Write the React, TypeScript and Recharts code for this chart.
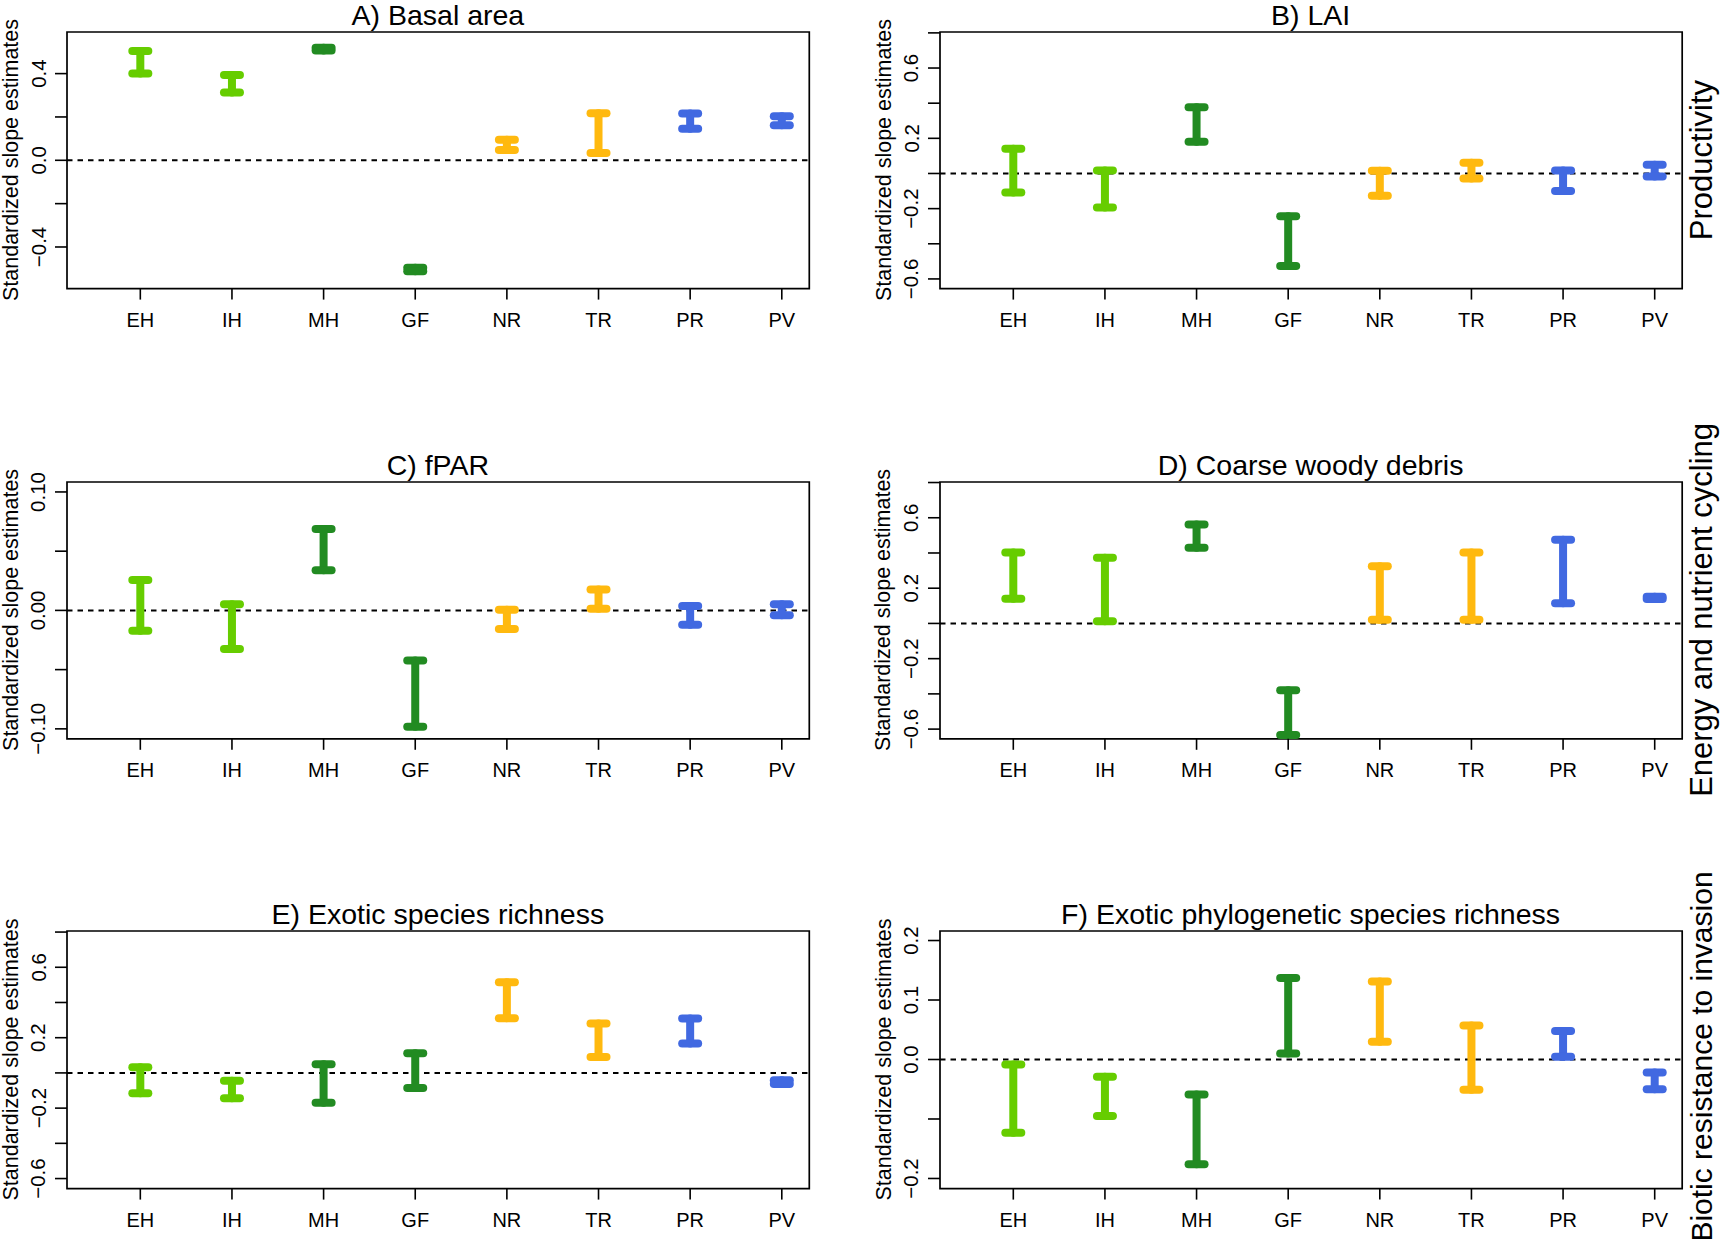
import React from 'react';
import {
  ScatterChart,
  Scatter,
  XAxis,
  YAxis,
  ErrorBar,
  ReferenceLine,
  ReferenceArea,
} from 'recharts';

// ---------- data ----------
const categories = ['EH', 'IH', 'MH', 'GF', 'NR', 'TR', 'PR', 'PV'];
const categoryColors = ['#66CD00', '#66CD00', '#228B22', '#228B22', '#FFB90F', '#FFB90F', '#4169E1', '#4169E1'];

const basalHi = [0.504, 0.394, 0.519, -0.496, 0.095, 0.217, 0.216, 0.203];
const basalLo = [0.400, 0.313, 0.507, -0.512, 0.048, 0.034, 0.146, 0.162];

const laiHi = [0.140, 0.017, 0.377, -0.243, 0.015, 0.061, 0.017, 0.049];
const laiLo = [-0.108, -0.193, 0.180, -0.527, -0.127, -0.028, -0.099, -0.017];

const fparHi = [0.0256, 0.0051, 0.0688, -0.0424, 0.0006, 0.0177, 0.0037, 0.0051];
const fparLo = [-0.0171, -0.0326, 0.0340, -0.0983, -0.0157, 0.0014, -0.0121, -0.0042];

const cwdHi = [0.403, 0.373, 0.562, -0.380, 0.325, 0.403, 0.475, 0.152];
const cwdLo = [0.140, 0.013, 0.430, -0.634, 0.021, 0.021, 0.114, 0.139];

const exoticHi = [0.032, -0.045, 0.049, 0.112, 0.515, 0.280, 0.309, -0.042];
const exoticLo = [-0.116, -0.144, -0.170, -0.085, 0.311, 0.091, 0.167, -0.063];

const phyloHi = [-0.0084, -0.029, -0.059, 0.137, 0.131, 0.057, 0.048, -0.022];
const phyloLo = [-0.123, -0.095, -0.176, 0.010, 0.030, -0.051, 0.0045, -0.050];

const ticksA = [-0.4, -0.2, 0, 0.2, 0.4];
const tickLabelsA = ['\u22120.4', '', '0.0', '', '0.4'];
const ticksWide = [-0.6, -0.4, -0.2, 0, 0.2, 0.4, 0.6, 0.8];
const tickLabelsWide = ['\u22120.6', '', '\u22120.2', '', '0.2', '', '0.6', ''];
const ticksC = [-0.1, -0.05, 0, 0.05, 0.1];
const tickLabelsC = ['\u22120.10', '', '0.00', '', '0.10'];
const ticksF = [-0.2, -0.1, 0, 0.1, 0.2];
const tickLabelsF = ['\u22120.2', '', '0.0', '0.1', '0.2'];

const rowLabels = ['Productivity', 'Energy and nutrient cycling', 'Biotic resistance to invasion'];
const yTitle = 'Standardized slope estimates';

// ---------- layout ----------
const FONT = "'Liberation Sans', Arial, Helvetica, sans-serif";
const COLS = [
  { L: 66.7, R: 809 },
  { L: 939.5, R: 1681.7 },
];
const ROWS = [
  { T: 31.7, B: 288.3 },
  { T: 481.5, B: 738.3 },
  { T: 930.7, B: 1188.3 },
];
const X_DOMAIN = [0.2, 8.3];

type PanelDef = {
  title: string;
  col: number;
  row: number;
  hi: number[];
  lo: number[];
  domain: [number, number];
  ticks: number[];
  tickLabels: string[];
};

const panels: PanelDef[] = [
  { title: 'A) Basal area', col: 0, row: 0, hi: basalHi, lo: basalLo, domain: [-0.592, 0.592], ticks: ticksA, tickLabels: tickLabelsA },
  { title: 'B) LAI', col: 1, row: 0, hi: laiHi, lo: laiLo, domain: [-0.655, 0.805], ticks: ticksWide, tickLabels: tickLabelsWide },
  { title: 'C) fPAR', col: 0, row: 1, hi: fparHi, lo: fparLo, domain: [-0.1084, 0.1084], ticks: ticksC, tickLabels: tickLabelsC },
  { title: 'D) Coarse woody debris', col: 1, row: 1, hi: cwdHi, lo: cwdLo, domain: [-0.655, 0.803], ticks: ticksWide, tickLabels: tickLabelsWide },
  { title: 'E) Exotic species richness', col: 0, row: 2, hi: exoticHi, lo: exoticLo, domain: [-0.657, 0.806], ticks: ticksWide, tickLabels: tickLabelsWide },
  { title: 'F) Exotic phylogenetic species richness', col: 1, row: 2, hi: phyloHi, lo: phyloLo, domain: [-0.217, 0.216], ticks: ticksF, tickLabels: tickLabelsF },
];

const groups = [
  { idx: [0, 1], color: categoryColors[0] },
  { idx: [2, 3], color: categoryColors[2] },
  { idx: [4, 5], color: categoryColors[4] },
  { idx: [6, 7], color: categoryColors[6] },
];

const EmptyShape = () => <g />;

function Panel({ p }: { p: PanelDef }) {
  const { L, R } = COLS[p.col];
  const { T, B } = ROWS[p.row];
  const padL = 66, padT = 10, padR = 10, padB = 60;
  const YW = 46, XH = 50;
  const W = R - L + padL + padR;
  const H = B - T + padT + padB;

  const table = categories.map((c, i) => {
    const mid = (p.hi[i] + p.lo[i]) / 2;
    return { x: i + 1, cat: c, mid, err: [mid - p.lo[i], p.hi[i] - mid] };
  });

  const yTick = (props: any) => {
    const { x, y, payload } = props;
    const k = p.ticks.findIndex((t) => Math.abs(t - payload.value) < 1e-9);
    const lab = k >= 0 ? p.tickLabels[k] : '';
    if (!lab) return <g />;
    return (
      <text
        x={x}
        y={y}
        transform={`rotate(-90 ${x} ${y})`}
        textAnchor="middle"
        fontFamily={FONT}
        fontSize={20.5}
        fill="#000"
      >
        {lab}
      </text>
    );
  };

  const xTick = (props: any) => {
    const { x, y, payload } = props;
    const lab = categories[Math.round(payload.value) - 1] || '';
    return (
      <text x={x} y={y + 25} textAnchor="middle" fontFamily={FONT} fontSize={20} fill="#000">
        {lab}
      </text>
    );
  };

  return (
    <div style={{ position: 'absolute', left: L - padL, top: T - padT, width: W, height: H }}>
      <ScatterChart
        width={W}
        height={H}
        margin={{ top: padT, right: padR, bottom: padB - XH, left: padL - YW }}
      >
        <XAxis
          type="number"
          dataKey="x"
          domain={X_DOMAIN}
          allowDataOverflow
          ticks={[1, 2, 3, 4, 5, 6, 7, 8]}
          interval={0}
          height={XH}
          axisLine={false}
          tickLine={{ stroke: '#000', strokeWidth: 1.6 }}
          tickSize={11}
          tickMargin={2}
          tick={xTick}
        />
        <YAxis
          type="number"
          dataKey="mid"
          domain={p.domain}
          allowDataOverflow
          ticks={p.ticks}
          interval={0}
          width={YW}
          axisLine={false}
          tickLine={{ stroke: '#000', strokeWidth: 1.6 }}
          tickSize={12}
          tickMargin={9.5}
          tick={yTick}
        />
        <ReferenceLine y={0} stroke="#000" strokeWidth={2} strokeDasharray="5.5 5" ifOverflow="visible" />
        <ReferenceArea
          x1={X_DOMAIN[0]}
          x2={X_DOMAIN[1]}
          y1={p.domain[0]}
          y2={p.domain[1]}
          fill="none"
          fillOpacity={0}
          stroke="#000"
          strokeWidth={1.7}
          ifOverflow="visible"
        />
        {groups.map((g, gi) => (
          <Scatter
            key={gi}
            data={g.idx.map((i) => table[i])}
            dataKey="mid"
            shape={EmptyShape}
            isAnimationActive={false}
          >
            <ErrorBar
              dataKey="err"
              direction="y"
              width={8}
              stroke={g.color}
              strokeWidth={8}
              strokeLinecap="round"
              isAnimationActive={false}
            />
          </Scatter>
        ))}
      </ScatterChart>
    </div>
  );
}

export default function App() {
  return (
    <div style={{ position: 'absolute', left: 0, top: 0, width: 1720, height: 1247, background: '#fff', overflow: 'hidden' }}>
      {panels.map((p, i) => (
        <Panel key={i} p={p} />
      ))}
      <svg
        width={1720}
        height={1247}
        style={{ position: 'absolute', left: 0, top: 0, pointerEvents: 'none' }}
      >
        {panels.map((p, i) => {
          const { L, R } = COLS[p.col];
          const { T, B } = ROWS[p.row];
          const cy = (T + B) / 2;
          const yx = L - 49;
          return (
            <g key={i}>
              <text x={(L + R) / 2} y={T - 7} textAnchor="middle" fontFamily={FONT} fontSize={28.5} fill="#000">
                {p.title}
              </text>
              <text
                x={yx}
                y={cy}
                transform={`rotate(-90 ${yx} ${cy})`}
                textAnchor="middle"
                fontFamily={FONT}
                fontSize={21.5}
                fill="#000"
              >
                {yTitle}
              </text>
            </g>
          );
        })}
        {ROWS.map((r, i) => {
          const cy = (r.T + r.B) / 2 - (i === 2 ? 3 : 0);
          const x = 1712;
          return (
            <text
              key={i}
              x={x}
              y={cy}
              transform={`rotate(-90 ${x} ${cy})`}
              textAnchor="middle"
              fontFamily={FONT}
              fontSize={i === 2 ? 30 : 31}
              fill="#000"
            >
              {rowLabels[i]}
            </text>
          );
        })}
      </svg>
    </div>
  );
}
